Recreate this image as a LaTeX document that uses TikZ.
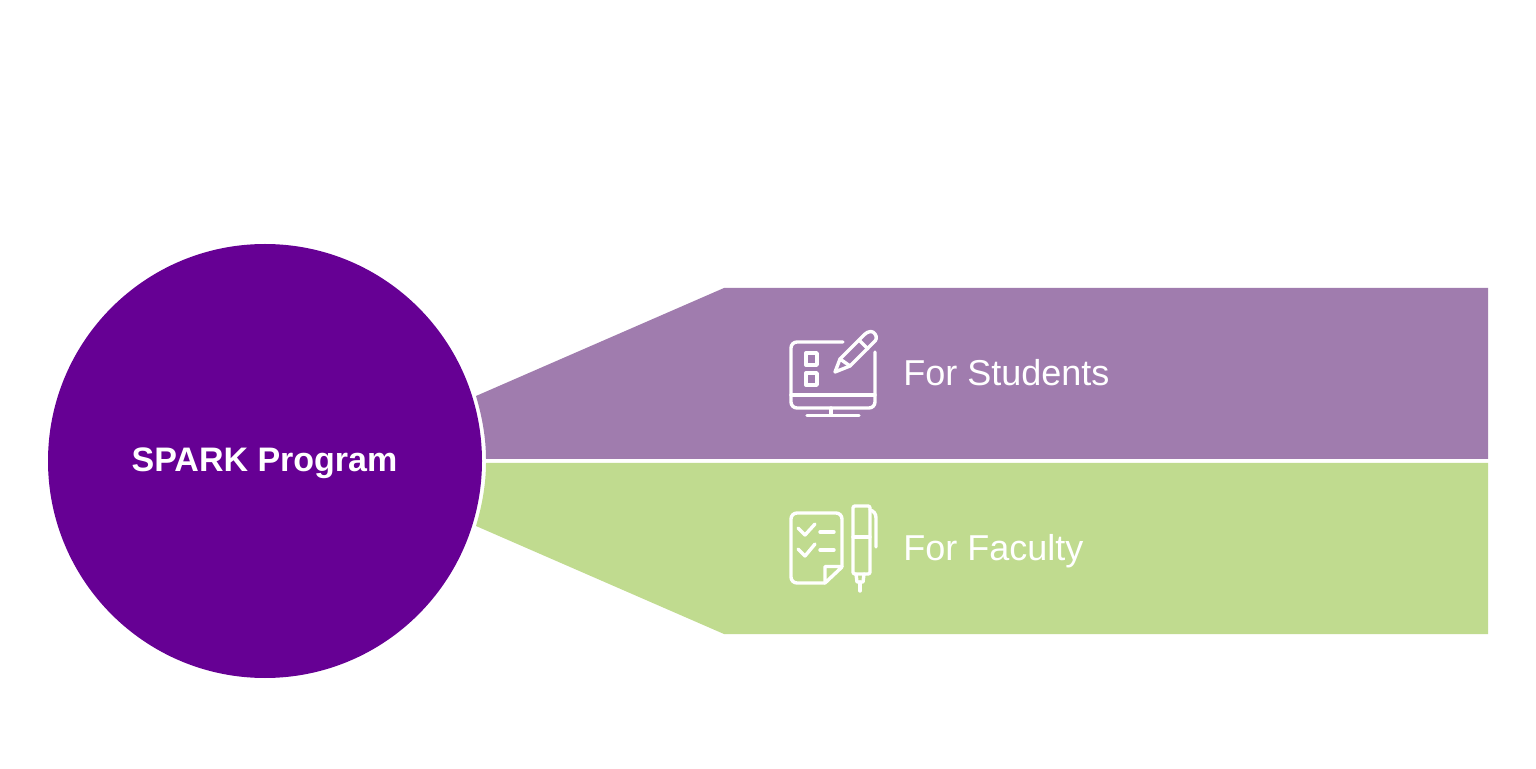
\documentclass[tikz,border=0pt]{standalone}
\usepackage{fontspec}
\setmainfont{Liberation Sans}
\definecolor{hub}{HTML}{660094}
\definecolor{band1}{HTML}{A07CAE}
\definecolor{band2}{HTML}{C0DB8F}
\tikzset{
  icon/.style={draw=white,line width=1.7pt,line cap=round,line join=round},
  hubshape/.style={circle,fill=hub,draw=none,minimum size=217pt,inner sep=0pt},
  title/.style={text=white,font=\fontsize{17}{20}\selectfont\bfseries,inner sep=0pt},
  label/.style={text=white,anchor=base west,font=\fontsize{18}{20}\selectfont,inner sep=0pt}
}
\begin{document}
\begin{tikzpicture}[x=0.5pt,y=-0.5pt]
\useasboundingbox (0,0) rectangle (1536,769);
\fill[white] (0,0) rectangle (1536,769);
% bands
\fill[band1] (476,396) -- (724,288) -- (1488,288) -- (1488,459) -- (486,459)
  .. controls (486,438) and (482,416) .. (476,396) -- cycle;
\fill[band2] (476,526) -- (724,634) -- (1488,634) -- (1488,463) -- (486,463)
  .. controls (486,484) and (482,506) .. (476,526) -- cycle;
% hub
\node[hubshape] (hub) at (265,461) {};
\node[title] (hubtitle) at (264.5,463.5) {SPARK Program};
\node[label] (students) at (903,386) {For Students};
\node[label] (faculty) at (903,560) {For Faculty};
% monitor icon
\draw[icon,rounded corners=3pt] (843,342) -- (791,342) -- (791,408) -- (875,408) -- (875,352);
\draw[icon] (791,395) -- (875,395);
\draw[icon] (831,408) -- (831,415);
\draw[icon] (807,415.5) -- (859,415.5);
\draw[icon] (806,353) rectangle (817,365);
\draw[icon] (806,373) rectangle (817,385);
\draw[icon] (835,372) -- (840,359) -- (864,335) .. controls (869,330) and (873,331) .. (875,334)
  .. controls (877,337) and (877,340) .. (873,343) -- (850,366) -- cycle;
\draw[icon] (840,359) -- (850,366);
\draw[icon] (859,340) -- (868,349);
% checklist icon
\draw[icon,rounded corners=3pt] (825,583) -- (791,583) -- (791,513) -- (842,513) -- (842,567);
\draw[icon] (842,567) -- (825,583) -- (825,566.5) -- (842,566.5);
\draw[icon] (798,528) -- (805,535) -- (815,524);
\draw[icon] (820,532) -- (834,532);
\draw[icon] (798,549) -- (805,556) -- (815,544);
\draw[icon] (820,550) -- (834,550);
\draw[icon,rounded corners=1pt] (853,506) rectangle (870,574);
\draw[icon] (853,537) -- (870,537);
\draw[icon] (870,510) .. controls (874,511) and (876,514) .. (876,518) -- (876,547);
\draw[icon] (856,574) -- (857,582) -- (863,582) -- (864,574);
\draw[icon] (860,582) -- (860,591);
\end{tikzpicture}
\end{document}
